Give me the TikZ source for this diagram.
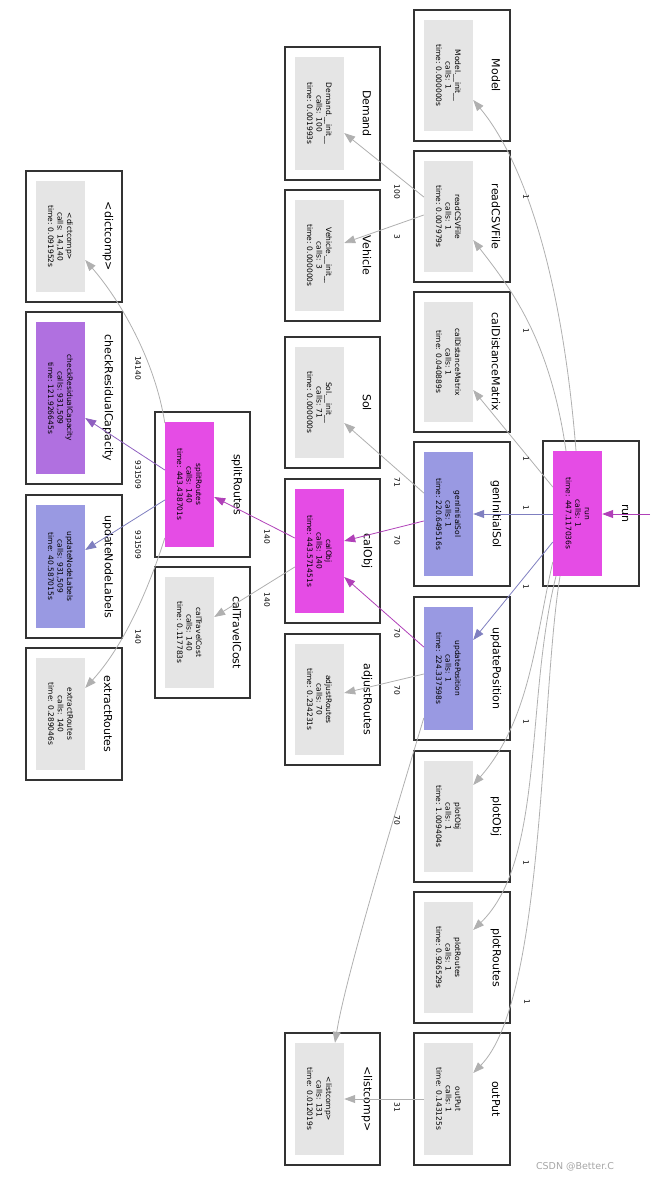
\documentclass[tikz,border=0pt]{standalone}
\usepackage{fontspec}
\setmainfont{DejaVu Sans}
\usetikzlibrary{arrows.meta}
\definecolor{gfill}{HTML}{E5E5E5}
\definecolor{mfill}{HTML}{E54CE5}
\definecolor{bfill}{HTML}{9999E2}
\definecolor{pfill}{HTML}{B070E0}
\definecolor{gedge}{HTML}{B0B0B0}
\definecolor{medge}{HTML}{B040B8}
\definecolor{bedge}{HTML}{7F7FC0}
\definecolor{pedge}{HTML}{8F5FC0}
\definecolor{frame}{HTML}{333333}
\tikzset{
  outer/.style={draw=frame,line width=2.4pt,fill=white},
  inner/.style={draw=none,inner sep=0pt,minimum width=49pt},
  ititle/.style={rotate=-90,font=\fontsize{11}{13}\selectfont,inner sep=0pt},
  itext/.style={rotate=-90,font=\fontsize{7.5}{9.5}\selectfont,align=center,inner sep=0pt},
  e/.style={draw=gedge,line width=0.8pt,-{Triangle[length=11pt,width=8pt]}},
  em/.style={e,draw=medge,-{Triangle[length=11pt,width=8pt,fill=medge]}},
  eb/.style={e,draw=bedge,-{Triangle[length=11pt,width=8pt,fill=bedge]}},
  ep/.style={e,draw=pedge,-{Triangle[length=11pt,width=8pt,fill=pedge]}},
  lab/.style={rotate=-90,font=\fontsize{7.5}{9}\selectfont,inner sep=0pt},
}
% name, x0, y0, x1, y1, title, fill, text
\newcommand\clu[8]{%
  \draw[outer] (#2,#3) rectangle (#4,#5);
  \node[inner,fill=#7,minimum height={#5-#3-20}] (#1) at ({#2+34.5},{(#3+#5)/2}) {};
  \node[itext] at (#1.center) {#8};
  \node[ititle] (#1t) at ({#2+82},{(#3+#5)/2}) {#6};
}
\begin{document}
\begin{tikzpicture}[x=1pt,y=-1pt]
\useasboundingbox (0,0) rectangle (650,1182);
% column A
\clu{model}{414}{10}{510}{141}{Model}{gfill}{Model.\_\_init\_\_\\calls: 1\\time: 0.000000s}
\clu{readcsv}{414}{151}{510}{282}{readCSVFile}{gfill}{readCSVFile\\calls: 1\\time: 0.007979s}
\clu{caldist}{414}{292}{510}{432}{calDistanceMatrix}{gfill}{calDistanceMatrix\\calls: 1\\time: 0.040889s}
\clu{geninit}{414}{442}{510}{586}{genInitialSol}{bfill}{genInitialSol\\calls: 1\\time: 220.649516s}
\clu{updpos}{414}{597}{510}{740}{updatePosition}{bfill}{updatePosition\\calls: 1\\time: 224.337598s}
\clu{plotobj}{414}{751}{510}{882}{plotObj}{gfill}{plotObj\\calls: 1\\time: 1.009404s}
\clu{plotroutes}{414}{892}{510}{1023}{plotRoutes}{gfill}{plotRoutes\\calls: 1\\time: 0.926529s}
\clu{output}{414}{1033}{510}{1165}{outPut}{gfill}{outPut\\calls: 1\\time: 0.143125s}
\clu{run}{543}{441}{639}{586}{run}{mfill}{run\\calls: 1\\time: 447.117036s}
% column B
\clu{demand}{285}{47}{380}{180}{Demand}{gfill}{Demand.\_\_init\_\_\\calls: 100\\time: 0.001993s}
\clu{vehicle}{285}{190}{380}{321}{Vehicle}{gfill}{Vehicle.\_\_init\_\_\\calls: 3\\time: 0.000000s}
\clu{sol}{285}{337}{380}{468}{Sol}{gfill}{Sol.\_\_init\_\_\\calls: 71\\time: 0.000000s}
\clu{calobj}{285}{479}{380}{623}{calObj}{mfill}{calObj\\calls: 140\\time: 443.571451s}
\clu{adjust}{285}{634}{380}{765}{adjustRoutes}{gfill}{adjustRoutes\\calls: 70\\time: 0.234231s}
\clu{listcomp}{285}{1033}{380}{1165}{<listcomp>}{gfill}{<listcomp>\\calls: 131\\time: 0.012019s}
% column C
\clu{split}{155}{412}{250}{557}{splitRoutes}{mfill}{splitRoutes\\calls: 140\\time: 443.438701s}
\clu{travel}{155}{567}{250}{698}{calTravelCost}{gfill}{calTravelCost\\calls: 140\\time: 0.117783s}
% column D
\clu{dict}{26}{171}{122}{302}{<dictcomp>}{gfill}{<dictcomp>\\calls: 14,140\\time: 0.091952s}
\clu{check}{26}{312}{122}{484}{checkResidualCapacity}{pfill}{checkResidualCapacity\\calls: 931,509\\time: 121.926645s}
\clu{updnode}{26}{495}{122}{638}{updateNodeLabels}{bfill}{updateNodeLabels\\calls: 931,509\\time: 40.587015s}
\clu{extract}{26}{648}{122}{780}{extractRoutes}{gfill}{extractRoutes\\calls: 140\\time: 0.289046s}
% entry
\coordinate (entry) at (650,514);
\draw[em] (entry) -- (run.east |- 0,514);
% run edges
\draw[e] (run.north -| 576,0) .. controls (560,250) and (515,150) .. (model.east |- 0,100);
\node[lab] at (526,197) {1};
\draw[e] (run.north -| 566,0) .. controls (550,340) and (512,290) .. (readcsv.east |- 0,240);
\node[lab] at (526,331) {1};
\draw[e] (run.west |- 0,487) -- (caldist.east |- 0,390);
\node[lab] at (526,459) {1};
\draw[eb] (run.west |- 0,514) -- (geninit.east |- 0,514);
\node[lab] at (526,508) {1};
\draw[eb] (run.west |- 0,542) -- (updpos.east |- 0,640);
\node[lab] at (526,587) {1};
\draw[e] (run.west |- 0,562) .. controls (535,640) and (530,720) .. (plotobj.east |- 0,785);
\node[lab] at (526,722) {1};
\draw[e] (run.south -| 556,0) .. controls (525,700) and (545,860) .. (plotroutes.east |- 0,930);
\node[lab] at (526,863) {1};
\draw[e] (run.south -| 560,0) .. controls (540,700) and (545,1000) .. (output.east |- 0,1073);
\node[lab] at (527,1002) {1};
% column A -> B
\draw[e] (readcsv.west |- 0,197) -- (demand.east |- 0,133);
\node[lab] at (397,192) {100};
\draw[e] (readcsv.west |- 0,215) -- (vehicle.east |- 0,243);
\node[lab] at (397,237) {3};
\draw[e] (geninit.west |- 0,493) -- (sol.east |- 0,423);
\node[lab] at (397,482) {71};
\draw[em] (geninit.west |- 0,521) -- (calobj.east |- 0,541);
\node[lab] at (397,540) {70};
\draw[em] (updpos.west |- 0,647) -- (calobj.east |- 0,577);
\node[lab] at (397,633) {70};
\draw[e] (updpos.west |- 0,674) -- (adjust.east |- 0,693);
\node[lab] at (397,690) {70};
\draw[e] (updpos.west |- 0,718) .. controls (390,830) and (345,980) .. (listcomp.north -| 335,0);
\node[lab] at (397,820) {70};
\draw[e] (output.west |- 0,1099) -- (listcomp.east |- 0,1099);
\node[lab] at (397,1107) {31};
% column B -> C
\draw[em] (calobj.west |- 0,538) -- (split.east |- 0,497);
\node[lab] at (267,537) {140};
\draw[e] (calobj.west |- 0,567) -- (travel.east |- 0,617);
\node[lab] at (267,600) {140};
% column C -> D
\draw[e] (split.west |- 0,423) .. controls (155,360) and (120,300) .. (dict.east |- 0,260);
\node[lab] at (138,368) {14140};
\draw[ep] (split.west |- 0,470) -- (check.east |- 0,418);
\node[lab] at (138,475) {931509};
\draw[eb] (split.west |- 0,500) -- (updnode.east |- 0,550);
\node[lab] at (138,545) {931509};
\draw[e] (split.west |- 0,538) .. controls (145,600) and (120,650) .. (extract.east |- 0,688);
\node[lab] at (138,637) {140};
\node[font=\fontsize{9.5}{11}\selectfont,text=gray!70] (wm) at (575,1167) {CSDN @Better.C};
\end{tikzpicture}
\end{document}
